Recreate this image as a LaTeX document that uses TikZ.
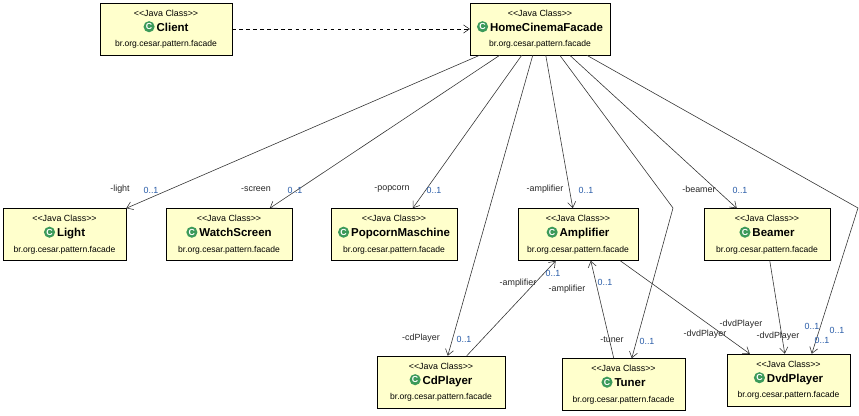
\documentclass[tikz,border=0pt]{standalone}
\usepackage{fontspec}
\setmainfont{Liberation Sans}
\usetikzlibrary{calc,arrows.meta}
\definecolor{boxfill}{HTML}{FFFFCC}
\definecolor{icongreen}{HTML}{3C9A5A}
\definecolor{multblue}{HTML}{2A5DA8}
\newcommand{\cicon}{\tikz[baseline=-0.75ex]\node[circle,fill=icongreen,inner sep=0pt,minimum size=9.5pt,text=white,font=\fontsize{7.5}{7.5}\selectfont\bfseries]{C};}
\newcommand{\jcls}[1]{{\fontsize{7.6}{9}\selectfont {<}{<}Java Class{>}{>}}\\[1pt]\cicon\,{\fontsize{9.8}{11}\selectfont\bfseries #1}\\[1pt]{\fontsize{7.3}{9}\selectfont br.org.cesar.pattern.facade}}

\begin{document}
\begin{tikzpicture}[x=0.03cm,y=-0.03cm,
                cls/.style={draw,fill=boxfill,align=center,inner sep=1pt,minimum height=52*0.03cm},
                assoc/.style={draw=black!80,line width=0.5pt,-{Straight Barb[length=5pt,width=7pt]}},
                role/.style={font=\fontsize{7.6}{9}\selectfont,text=black!85,inner sep=1pt},
                mult/.style={font=\fontsize{7.6}{9}\selectfont,text=multblue,inner sep=1pt}]
                \useasboundingbox (0,0) rectangle (859,415);
                \node[cls,minimum width=132*0.03cm] (client) at (166,29) {\jcls{Client}};
                \node[cls,minimum width=140*0.03cm] (facade) at (540,29) {\jcls{HomeCinemaFacade}};
                \node[cls,minimum width=123*0.03cm] (light) at (64.5,234.5) {\jcls{Light}};
                \node[cls,minimum width=126*0.03cm] (screen) at (229,234.5) {\jcls{WatchScreen}};
                \node[cls,minimum width=126*0.03cm] (popcorn) at (394,234.5) {\jcls{PopcornMaschine}};
                \node[cls,minimum width=120*0.03cm] (amp) at (578,234.5) {\jcls{Amplifier}};
                \node[cls,minimum width=126*0.03cm] (beamer) at (767,234.5) {\jcls{Beamer}};
                \node[cls,minimum width=128*0.03cm] (cd) at (441,382) {\jcls{CdPlayer}};
                \node[cls,minimum width=123*0.03cm] (tuner) at (623.5,384.5) {\jcls{Tuner}};
                \node[cls,minimum width=123*0.03cm] (dvd) at (788.5,380) {\jcls{DvdPlayer}};
                \coordinate (tbend) at (673,208);
                \coordinate (dbend) at (858,208);
                % client uses facade
                \draw[dashed,-{Straight Barb[length=5pt,width=7pt]}] (client) -- (facade);
                % facade associations
                \draw[assoc] ($(facade.south west)+(10,0)$) -- (light.north east);
                \draw[assoc] ($(facade.south west)+(30,0)$) -- ($(screen.north west)+(104,0)$);
                \draw[assoc] ($(facade.south west)+(52,0)$) -- ($(popcorn.north west)+(82,0)$);
                \draw[assoc] ($(facade.south west)+(63,0)$) -- ($(cd.north west)+(71,0)$);
                \draw[assoc] ($(facade.south west)+(76,0)$) -- ($(amp.north west)+(55,0)$);
                \draw[assoc] ($(facade.south west)+(90,0)$) -- (tbend) -- ($(tuner.north west)+(70,0)$);
                \draw[assoc] ($(facade.south west)+(100,0)$) -- ($(beamer.north west)+(33,0)$);
                \draw[assoc] ($(facade.south west)+(117,0)$) -- (dbend) -- ($(dvd.north west)+(85,0)$);
                % other associations
                \draw[assoc] ($(amp.south east)+(-18,0)$) -- ($(dvd.north west)+(23,0)$);
                \draw[assoc] ($(beamer.south west)+(66,0)$) -- ($(dvd.north west)+(58,0)$);
                \draw[assoc] ($(cd.north west)+(90,0)$) -- ($(amp.south west)+(38,0)$);
                \draw[assoc] ($(tuner.north west)+(52,0)$) -- ($(amp.south west)+(73,0)$);
                % role names and multiplicities
                \node[role] (rlight) at (120,189) {-light};
                \node[mult] (mlight) at (151,190) {0..1};
                \node[role] (rscreen) at (256,189) {-screen};
                \node[mult] (mscreen) at (295,190) {0..1};
                \node[role] (rpop) at (392,189) {-popcorn};
                \node[mult] (mpop) at (434,190) {0..1};
                \node[role] (ramp) at (545,189) {-amplifier};
                \node[mult] (mamp) at (586,190) {0..1};
                \node[role] (rbeamer) at (699,189) {-beamer};
                \node[mult] (mbeamer) at (740,190) {0..1};
                \node[role] (rcd) at (421,338) {-cdPlayer};
                \node[mult] (mcd) at (464,339) {0..1};
                \node[role] (rtuner) at (612,340) {-tuner};
                \node[mult] (mtuner) at (647,341) {0..1};
                \node[role] (rampcd) at (518,283) {-amplifier};
                \node[mult] (mampcd) at (553,273) {0..1};
                \node[role] (ramptu) at (567,289) {-amplifier};
                \node[mult] (mamptu) at (605,282) {0..1};
                \node[role] (rdvda) at (705,334) {-dvdPlayer};
                \node[role] (rdvdb) at (741,324) {-dvdPlayer};
                \node[role] (rdvdc) at (778,336) {-dvdPlayer};
                \node[mult] (mdvda) at (812,326) {0..1};
                \node[mult] (mdvdb) at (822,340) {0..1};
                \node[mult] (mdvdc) at (837,330) {0..1};
\end{tikzpicture}
\end{document}
